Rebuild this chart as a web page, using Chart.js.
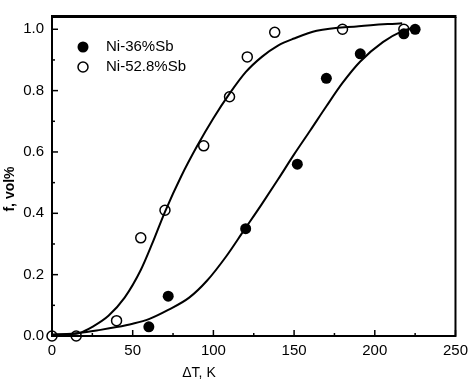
<!DOCTYPE html>
<html>
<head>
<meta charset="utf-8">
<script src="https://cdn.jsdelivr.net/npm/chart.js@4/dist/chart.umd.min.js"></script>
<style>
  html, body { margin: 0; padding: 0; background: #fff; }
  #wrap { width: 474px; height: 384px; }
</style>
</head>
<body>
<div id="wrap"><canvas id="c" width="474" height="384"></canvas></div>
<script>
// ---- data ------------------------------------------------------------------
const xTicks      = [0, 50, 100, 150, 200, 250];
const xMinorTicks = [25, 75, 125, 175, 225];
const yTicks      = [0, 0.2, 0.4, 0.6, 0.8, 1.0];
const yMinorTicks = [0.1, 0.3, 0.5, 0.7, 0.9];

const ni36Label = 'Ni-36%Sb';
const ni36X = [60, 72, 120, 152, 170, 191, 218, 225];
const ni36Y = [0.03, 0.13, 0.35, 0.56, 0.84, 0.92, 0.985, 1.0];

const ni528Label = 'Ni-52.8%Sb';
const ni528X = [0, 15, 40, 55, 70, 94, 110, 121, 138, 180, 218];
const ni528Y = [0, 0, 0.05, 0.32, 0.41, 0.62, 0.78, 0.91, 0.99, 1.0, 1.0];

// fitted curves (traced)
const fit36X = [0, 17, 30, 40, 50, 60, 72, 85, 96, 108, 119, 130, 140, 150, 160, 170, 180, 191, 205, 217, 224];
const fit36Y = [0.004, 0.01, 0.02, 0.029, 0.04, 0.055, 0.085, 0.125, 0.18, 0.26, 0.345, 0.43, 0.51, 0.592, 0.67, 0.749, 0.825, 0.895, 0.958, 0.994, 1.005];
const fit528X = [0, 10, 17, 25, 35, 45, 55, 62, 70, 80, 90, 100, 110, 120, 130, 140, 150, 164, 190, 217];
const fit528Y = [0.004, 0.006, 0.01, 0.03, 0.066, 0.125, 0.215, 0.3, 0.405, 0.52, 0.62, 0.71, 0.79, 0.86, 0.91, 0.947, 0.97, 0.995, 1.01, 1.02];

const xTitle = 'ΔT, K';
const yTitle = 'f, vol%';

const FONT = 'Arial, "Liberation Sans", Helvetica, sans-serif';

const pts = (xs, ys) => xs.map((x, i) => ({ x, y: ys[i] }));

// frame, inward ticks, axis titles and in-plot legend
const framePlugin = {
  id: 'frame',
  afterDraw(chart) {
    const { ctx, chartArea: a, scales } = chart;
    const xs = scales.x, ys = scales.y;
    ctx.save();
    ctx.strokeStyle = '#000';
    ctx.lineCap = 'butt';

    // ticks pointing into the plot
    ctx.lineWidth = 1.5;
    const tick = (list, len, horiz) => list.forEach(v => {
      ctx.beginPath();
      if (horiz) {
        const px = xs.getPixelForValue(v);
        ctx.moveTo(px, a.bottom); ctx.lineTo(px, a.bottom - len);
      } else {
        const py = ys.getPixelForValue(v);
        ctx.moveTo(a.left, py); ctx.lineTo(a.left + len, py);
      }
      ctx.stroke();
    });
    tick(xTicks, 6, true);
    tick(xMinorTicks, 3, true);
    tick(yTicks, 6, false);
    tick(yMinorTicks, 3, false);

    // box
    ctx.lineWidth = 2;
    ctx.beginPath();
    ctx.moveTo(a.left, a.top); ctx.lineTo(a.left, a.bottom); ctx.lineTo(a.right, a.bottom);
    ctx.lineTo(a.right, a.top);
    ctx.stroke();
    ctx.lineWidth = 3;
    ctx.beginPath();
    ctx.moveTo(a.left - 1, a.top - 0.5); ctx.lineTo(a.right + 1, a.top - 0.5);
    ctx.stroke();

    // axis titles
    ctx.fillStyle = '#000';
    ctx.font = '14px ' + FONT;
    ctx.textAlign = 'center';
    ctx.textBaseline = 'middle';
    ctx.fillText(xTitle, a.left + 147, a.bottom + 37);
    ctx.save();
    ctx.translate(10, a.top + 172);
    ctx.rotate(-Math.PI / 2);
    ctx.font = 'bold 14px ' + FONT;
    ctx.fillText(yTitle, 0, 0);
    ctx.restore();

    // legend inside the plot
    const lx = a.left + 31, ly = a.top + 30;
    ctx.font = '15px ' + FONT;
    ctx.textAlign = 'left';
    ctx.lineWidth = 1.5;
    ctx.beginPath(); ctx.arc(lx, ly, 5.5, 0, Math.PI * 2); ctx.fill();
    ctx.beginPath(); ctx.arc(lx, ly + 20, 5, 0, Math.PI * 2); ctx.stroke();
    ctx.fillText(ni36Label, lx + 23, ly);
    ctx.fillText(ni528Label, lx + 23, ly + 20);
    ctx.restore();
  },
};

new Chart(document.getElementById('c').getContext('2d'), {
  type: 'scatter',
  data: {
    datasets: [
      { label: ni36Label, data: pts(ni36X, ni36Y), pointRadius: 5.5, pointHoverRadius: 5.5,
        backgroundColor: '#000', borderColor: '#000', borderWidth: 0, clip: false },
      { label: ni528Label, data: pts(ni528X, ni528Y), pointRadius: 5, pointHoverRadius: 5,
        backgroundColor: 'rgba(0,0,0,0)', borderColor: '#000', borderWidth: 1.5, clip: false },
      { type: 'line', data: pts(fit36X, fit36Y), borderColor: '#000', borderWidth: 2,
        pointRadius: 0, showLine: true, cubicInterpolationMode: 'monotone', clip: false },
      { type: 'line', data: pts(fit528X, fit528Y), borderColor: '#000', borderWidth: 2,
        pointRadius: 0, showLine: true, cubicInterpolationMode: 'monotone', clip: false },
    ],
  },
  plugins: [framePlugin],
  options: {
    animation: false,
    responsive: false,
    devicePixelRatio: 1,
    layout: { padding: { top: 3, right: 14, left: 0, bottom: 0 } },
    plugins: { legend: { display: false }, tooltip: { enabled: false } },
    scales: {
      x: {
        type: 'linear', min: 0, max: 250,
        grid: { display: false, drawTicks: false },
        border: { display: false },
        afterFit(scale) { scale.height = 48; },
        afterBuildTicks(scale) { scale.ticks = xTicks.map(v => ({ value: v })); },
        ticks: { color: '#000', padding: 6, maxRotation: 0, font: { size: 15, family: FONT },
                 callback: v => String(v) },
      },
      y: {
        type: 'linear', min: 0, max: 1.04,
        grid: { display: false, drawTicks: false },
        border: { display: false },
        afterFit(scale) { scale.width = 52; },
        afterBuildTicks(scale) { scale.ticks = yTicks.map(v => ({ value: v })); },
        ticks: { color: '#000', padding: 8, font: { size: 15, family: FONT },
                 callback: v => Number(v).toFixed(1) },
      },
    },
  },
});
</script>
</body>
</html>
